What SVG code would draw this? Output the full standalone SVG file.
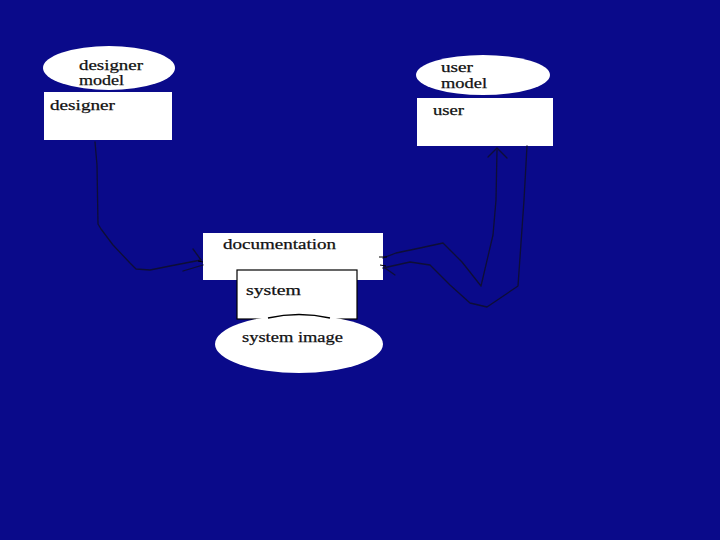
<svg xmlns="http://www.w3.org/2000/svg" width="720" height="540" viewBox="0 0 720 540">
<style>
.bg{fill:#0a0a8a}
.box{fill:#ffffff}
.sys{fill:#ffffff;stroke:#000000;stroke-width:1.2}
.ell{fill:#ffffff}
.t{font-family:"Liberation Serif","DejaVu Serif",serif;font-size:14px;fill:#111111;stroke:#111111;stroke-width:0.25}
.c{fill:none;stroke:#0e0e36;stroke-width:1.3;stroke-linejoin:round;stroke-linecap:round}
</style>
<rect class="bg" x="0" y="0" width="720" height="540"/>
<g id="designer-model">
<ellipse class="ell" cx="109" cy="68" rx="66" ry="22"/>
<text class="t" x="79" y="70" textLength="64" lengthAdjust="spacingAndGlyphs">designer</text>
<text class="t" x="79" y="85" textLength="45" lengthAdjust="spacingAndGlyphs">model</text>
</g>
<g id="designer">
<rect class="box" x="44" y="92" width="128" height="48"/>
<text class="t" x="50" y="110" textLength="65" lengthAdjust="spacingAndGlyphs">designer</text>
</g>
<g id="user-model">
<ellipse class="ell" cx="483" cy="75" rx="67" ry="20"/>
<text class="t" x="441" y="72" textLength="32" lengthAdjust="spacingAndGlyphs">user</text>
<text class="t" x="441" y="88" textLength="46" lengthAdjust="spacingAndGlyphs">model</text>
</g>
<g id="user">
<rect class="box" x="417" y="98" width="136" height="48"/>
<text class="t" x="433" y="115" textLength="31" lengthAdjust="spacingAndGlyphs">user</text>
</g>
<g id="documentation">
<rect class="box" x="203" y="233" width="180" height="47"/>
<text class="t" x="223" y="249" textLength="113" lengthAdjust="spacingAndGlyphs">documentation</text>
</g>
<g id="system">
<rect class="sys" x="237" y="270" width="120" height="49"/>
<text class="t" x="246" y="295" textLength="55" lengthAdjust="spacingAndGlyphs">system</text>
</g>
<g id="system-image">
<ellipse class="ell" cx="299" cy="344" rx="84" ry="29"/>
<path d="M268 318 Q299 311 330 318" fill="none" stroke="#000" stroke-width="1.5"/>
<text class="t" x="242" y="342" textLength="101" lengthAdjust="spacingAndGlyphs">system image</text>
</g>
<g id="connectors">
<path class="c" d="M95 142 L97 165 L98 224 L101 229 L113 245 L130 263 L136 269 L150 270 L170 266 L201 260"/>
<path class="c" d="M193 249 L201 260"/>
<path class="c" d="M183 271 L203 265"/>
<path class="c" d="M497 150 L496 200 L493 235 L481 286 L462 262 L443 243 L420 248 L396 253 L383 258"/>
<path class="c" d="M527 146 L524 200 L518 286 L487 307 L470 303 L450 285 L430 265 L410 262 L383 268"/>
<path class="c" d="M488 157 L497 148 L507 158"/>
<path class="c" d="M385 268 L395 275"/>
<path d="M379 257 L387 257 M380 265 L386 266" stroke="#000" stroke-width="1"/>
<path d="M198 261 L203 262" stroke="#000" stroke-width="1"/>
</g>
</svg>
